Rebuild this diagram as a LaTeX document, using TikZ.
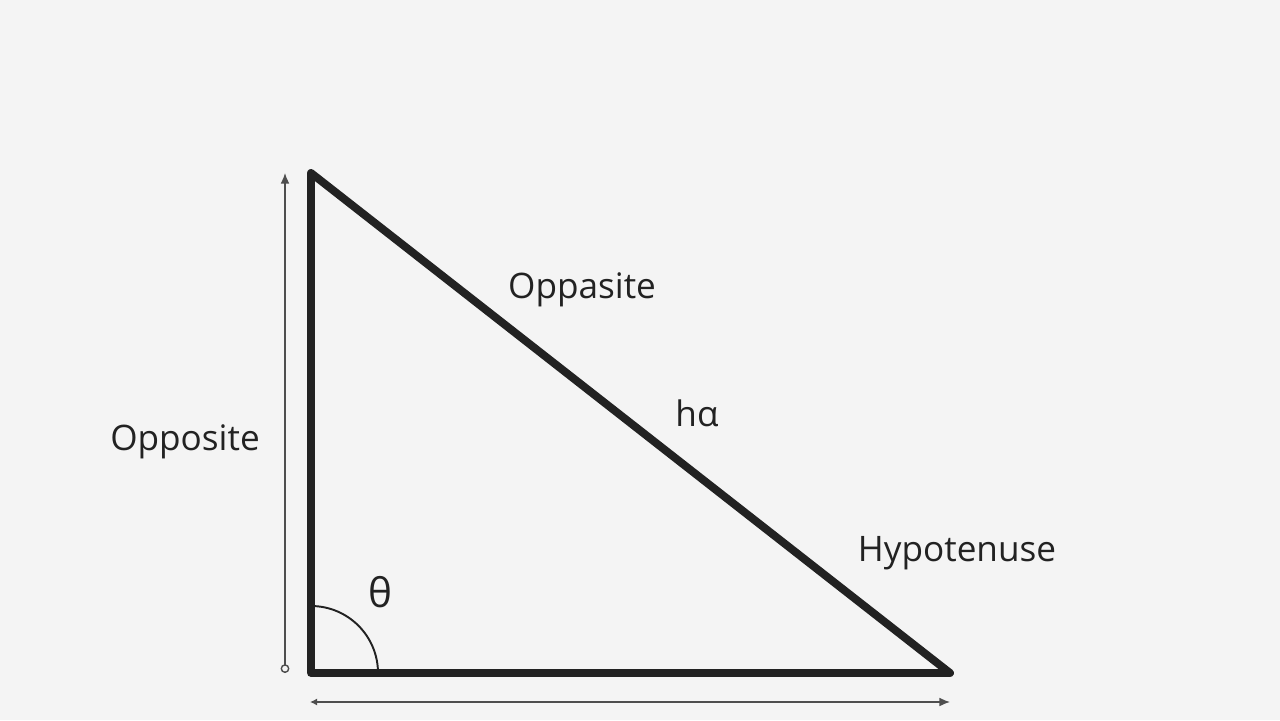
\documentclass[tikz,border=0pt]{standalone}
\usepackage{fontspec}
\setmainfont{Open Sans}
\usetikzlibrary{arrows.meta}

\definecolor{bg}{HTML}{F4F4F4}
\definecolor{ink}{HTML}{222222}

\tikzset{label text/.style={ink, font=\fontsize{20}{24}\selectfont}}

\begin{document}
\begin{tikzpicture}[x=0.02cm,y=-0.02cm,auto=center]
        \fill[bg] (0,0) rectangle (1280,720);
        \useasboundingbox (0,0) rectangle (1280,720);

        \coordinate (top) at (311,173);
        \coordinate (corner) at (311,673);
        \coordinate (right) at (950,673);

        \coordinate (vtop) at (285,173);
        \coordinate (vbot) at (285,673);
        \coordinate (hleft) at (310,702);
        \coordinate (hright) at (950,702);

        \draw[ink, line width=4.5pt, line join=round] (top) -- (corner) -- (right) -- cycle;
        \draw[ink, line width=1.1pt] ([yshift=67*0.02cm]corner) arc[start angle=90, end angle=0, radius=67*0.02cm];

        \draw[{Latex[length=6pt,width=5pt]}-{Circle[open,length=5pt]}, ink!80, line width=0.8pt] (vtop) -- (vbot);
        \draw[{Latex[length=4pt,width=4pt]}-{Latex[length=6pt,width=5pt]}, ink!80, line width=0.8pt] (hleft) -- (hright);

        \node[label text] (opp1) at (582,290) {Oppasite};
        \node[label text] (opp2) at (185,442) {Opposite};
        \node[label text] (ha) at (697,413) {hα};
        \node[label text] (hyp) at (957,553) {Hypotenuse};
        \node[label text, font=\fontsize{23}{27}\selectfont] (theta) at (380,592) {θ};
\end{tikzpicture}
\end{document}
